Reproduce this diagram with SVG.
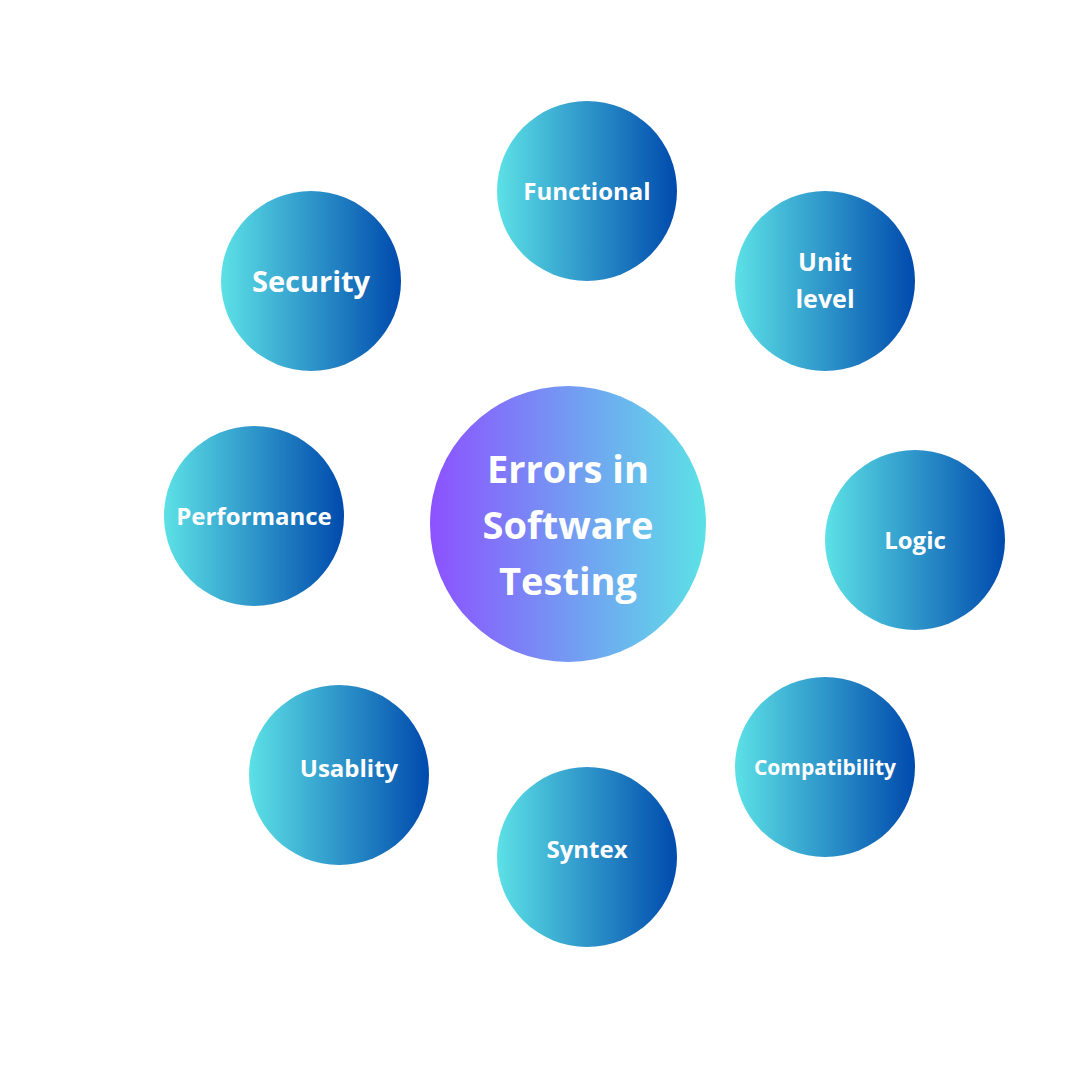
<svg xmlns="http://www.w3.org/2000/svg" width="1080" height="1080" viewBox="0 0 1080 1080">
<defs>
<linearGradient id="g" x1="0" y1="0" x2="1" y2="0"><stop offset="0" stop-color="#5ce1e6"/><stop offset="1" stop-color="#004aad"/></linearGradient>
<linearGradient id="c" x1="0" y1="0" x2="1" y2="0"><stop offset="0" stop-color="#8c52ff"/><stop offset="1" stop-color="#5ce1e6"/></linearGradient>
<style>
.n{fill:url(#g)}
text{font-family:"Open Sans","DejaVu Sans",sans-serif;font-weight:bold;fill:#fff;text-anchor:middle}
</style>
</defs>
<rect width="1080" height="1080" fill="#fff"/>
<g id="center"><circle cx="568" cy="524" r="138" fill="url(#c)"/><text x="568" y="483" font-size="38">Errors in</text><text x="568" y="539" font-size="38">Software</text><text x="568" y="595" font-size="38">Testing</text></g>
<g id="functional"><circle class="n" cx="587" cy="191" r="90"/><text x="587" y="200" font-size="24">Functional</text></g>
<g id="unit"><circle class="n" cx="825" cy="281" r="90"/><text x="825" y="271" font-size="25">Unit</text><text x="825" y="308" font-size="25">level</text></g>
<g id="security"><circle class="n" cx="311" cy="281" r="90"/><text x="311" y="292" font-size="29">Security</text></g>
<g id="performance"><circle class="n" cx="254" cy="516" r="90"/><text x="254" y="525" font-size="24">Performance</text></g>
<g id="logic"><circle class="n" cx="915" cy="540" r="90"/><text x="915" y="549" font-size="24">Logic</text></g>
<g id="usablity"><circle class="n" cx="339" cy="775" r="90"/><text x="349" y="777" font-size="24">Usablity</text></g>
<g id="compatibility"><circle class="n" cx="825" cy="767" r="90"/><text x="825" y="775" font-size="21">Compatibility</text></g>
<g id="syntex"><circle class="n" cx="587" cy="857" r="90"/><text x="587" y="858" font-size="24">Syntex</text></g>
<g id="connectors"/>
</svg>
